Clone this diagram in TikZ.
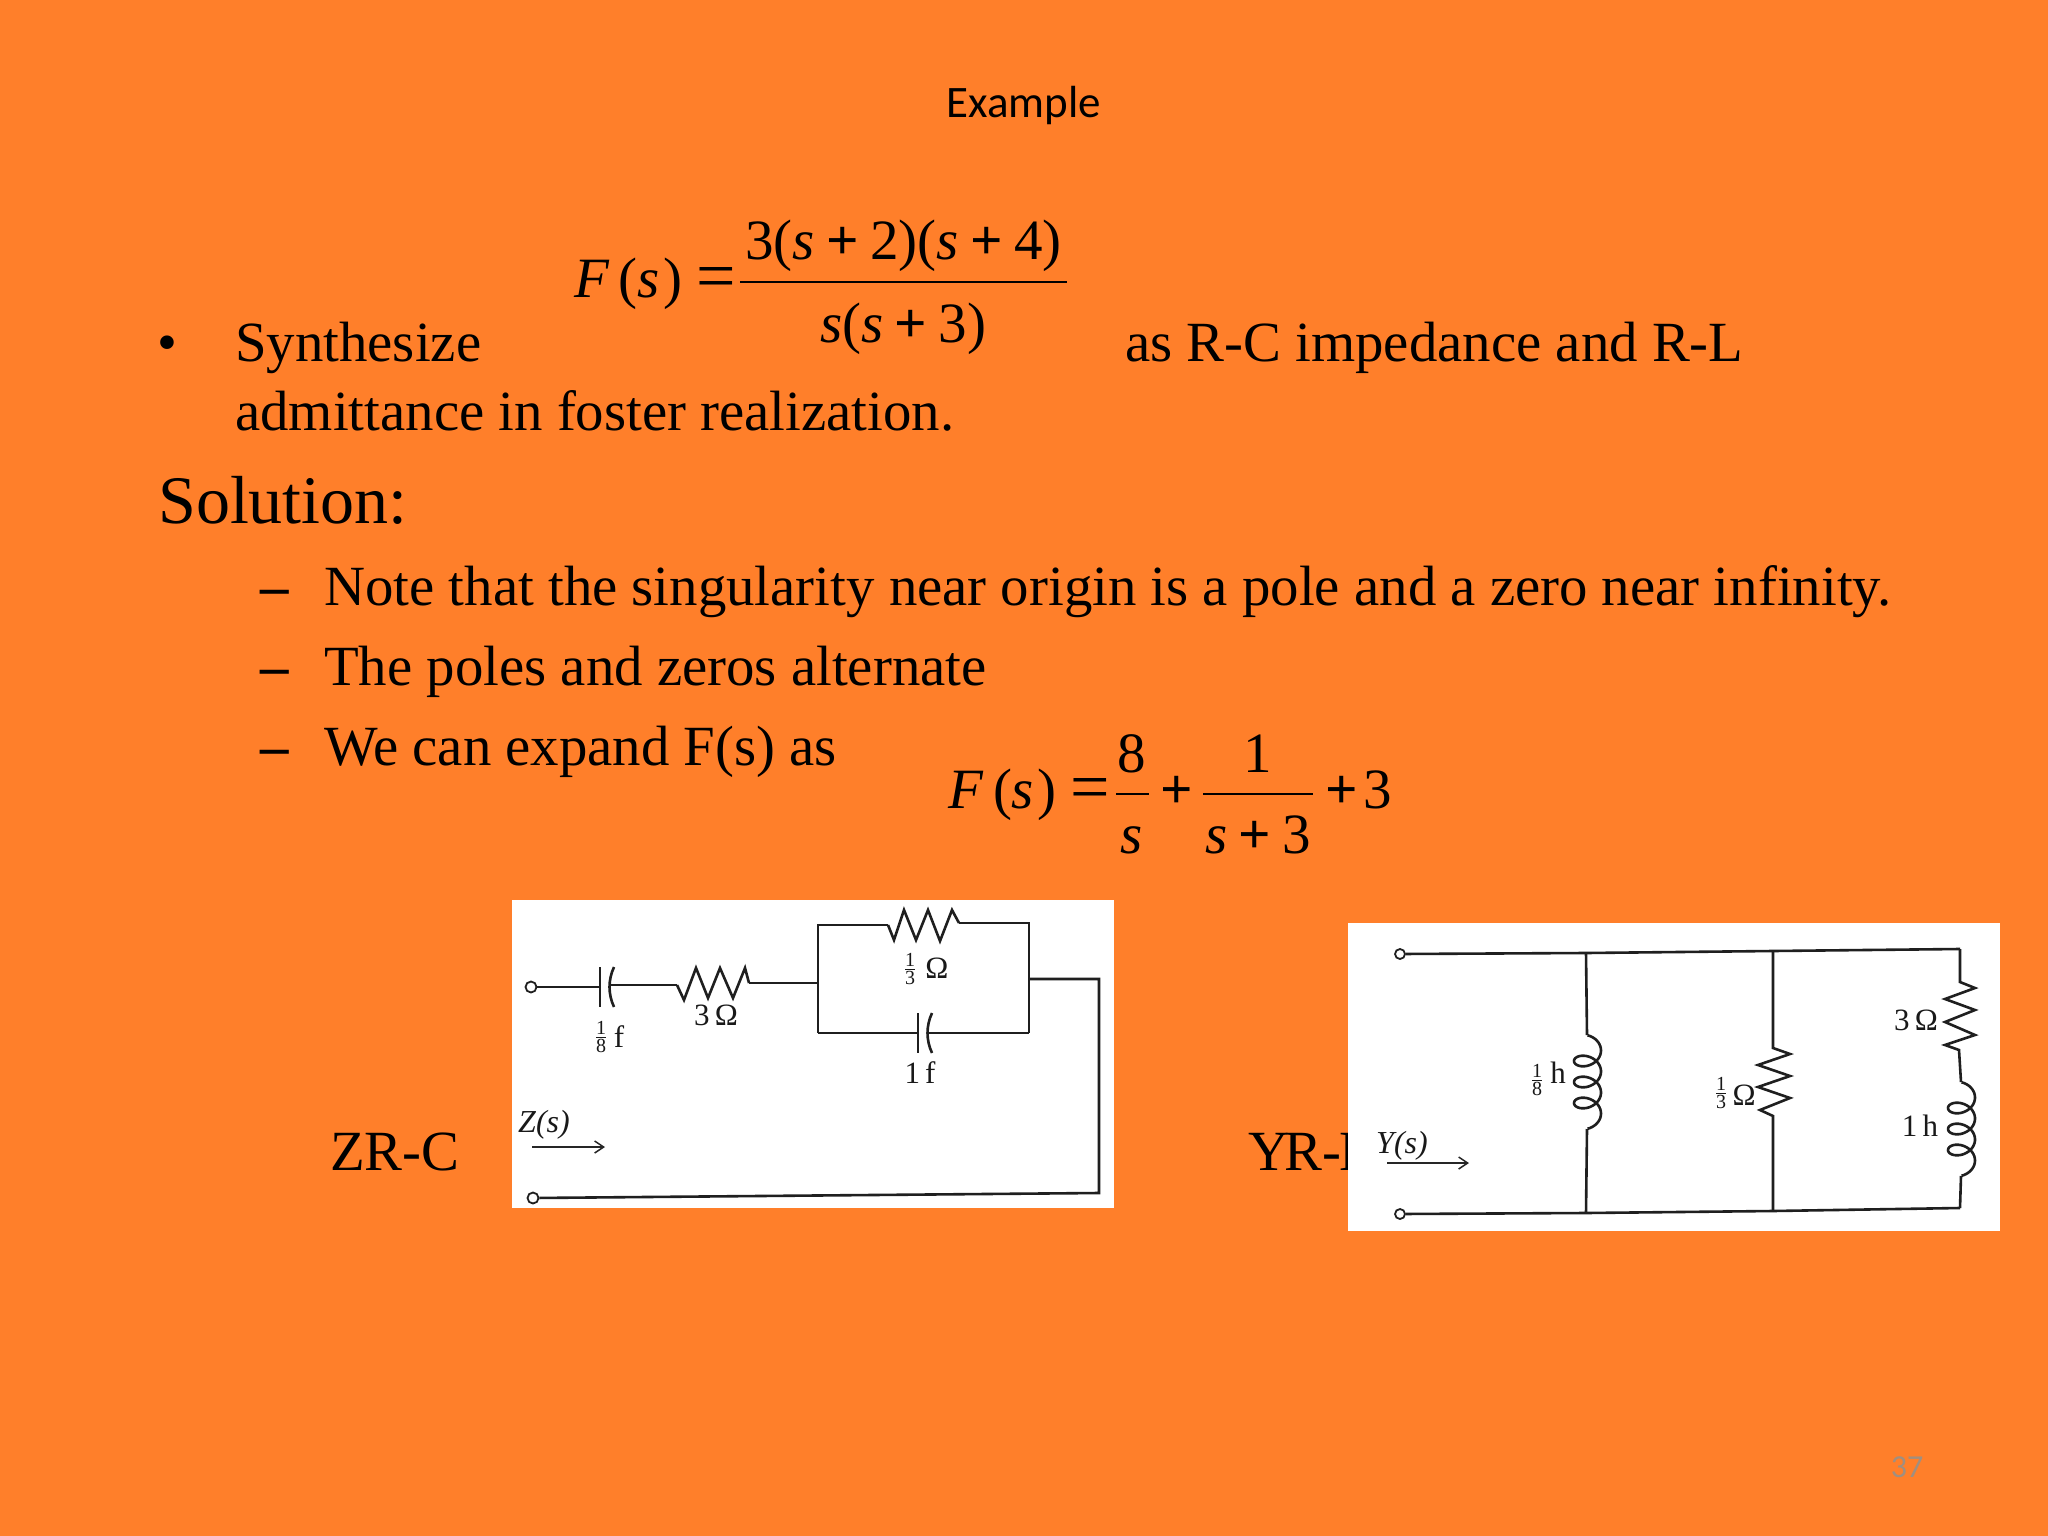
\documentclass[tikz,border=0pt]{standalone}
\usepackage{fontspec}
\setmainfont{Liberation Serif}
\newfontfamily\calibri{Carlito}
\usepackage{xcolor}
\usetikzlibrary{arrows.meta,positioning}
\definecolor{slideorange}{HTML}{FF7F2A}
\definecolor{pagegray}{HTML}{A08F80}
\newcommand{\fsize}[1]{\fontsize{#1}{#1}\selectfont}
\tikzset{%
	body/.style     = {anchor=base west, inner sep=0, font=\fsize{56.8}},
	head/.style     = {anchor=base west, inner sep=0, font=\fsize{68}},
	eqn/.style      = {anchor=base west, inner sep=0, font=\fsize{57}},
	eqnc/.style     = {anchor=base, inner sep=0, font=\fsize{57}},
	wire/.style     = {line width=2.6pt, black!88},
	rule/.style     = {line width=2.2pt, black},
	terminal/.style = {draw=black!88, line width=1.8pt, circle, fill=white, inner sep=0, minimum size=11pt},
	lab/.style      = {inner sep=0, font=\fsize{31}, black!90},
	frc/.style      = {inner sep=0, font=\fsize{20}, black!90},
	arrow/.style    = {line width=1.5pt, black!85, -{Straight Barb[length=9pt,width=12pt]}},
	coil/.pic       = {\draw[wire] plot[domain=-90:1170,samples=140,smooth] ({1.5+13.5*cos(\x)},{21*(\x-540)/360+10*sin(\x)});},
	capa/.pic       = {\draw[wire] (0,-20) -- (0,20);
		\draw[wire] (14,-20) .. controls (8,-7) and (8,7) .. (14,20);},
}
\newcommand{\ita}[1]{\textit{#1}}
\newcommand{\pl}{\hspace{0.2em}\textbf{+}\hspace{0.2em}}
\newcommand{\eqs}{{\fsize{70}\raisebox{-2pt}{=}}}
\newcommand{\stk}[2]{$\mbox{#1}\above1.4pt\mbox{#2}$}
\begin{document}
\begin{tikzpicture}[x=1pt,y=-1pt]
	\fill[slideorange] (0,0) rectangle (2048,1536);
	\useasboundingbox (0,0) rectangle (2048,1536);
	% slide text
	\node[inner sep=0, font=\calibri\fsize{45}] (title) at (1024,106) {Example};
	\node[body] (bul) at (157,361) {•};
	\node[body] (syn) at (235,361) {Synthesize};
	\node[body] (as) at (1125,361) {as R-C impedance and R-L};
	\node[body] (adm) at (235,430) {admittance in foster realization.};
	\node[head] (sol) at (158,523) {Solution:};
	\node[body] (d1) at (260,605) {\textbf{–}};
	\node[body] (d2) at (260,685) {\textbf{–}};
	\node[body] (d3) at (260,765) {\textbf{–}};
	\node[body] (note) at (324,605) {Note that the singularity near origin is a pole and a zero near infinity.};
	\node[body] (alt) at (324,685) {The poles and zeros alternate};
	\node[body] (exp) at (324,765) {We can expand F(s) as};
	% first equation
	\node[eqn] (fa) at (574,297) {\ita{F}\,(\ita{s}\hspace{0.05em}) \eqs};
	\node[eqn] (na) at (745,259) {3(\ita{s}\pl 2)(\ita{s}\pl 4)};
	\node[eqn] (da) at (820,342) {\ita{s}(\ita{s}\pl 3)};
	\coordinate (ral) at (740,282);
	\coordinate (rar) at (1067,282);
	\draw[rule] (ral) -- (rar);
	% second equation
	\node[eqn] (fb) at (948,808) {\ita{F}\,(\ita{s}\hspace{0.05em}) \eqs};
	\node[eqnc] (nb) at (1132,772) {8};
	\node[eqnc] (db) at (1132,853) {\ita{s}};
	\coordinate (rbl) at (1116,794);
	\coordinate (rbr) at (1149,794);
	\draw[rule] (rbl) -- (rbr);
	\node[eqnc] (pb) at (1177,808) {\textbf{+}};
	\node[eqnc] (nc) at (1258,772) {1};
	\node[eqnc] (dc) at (1258,853) {\ita{s}\pl 3};
	\coordinate (rcl) at (1203,794);
	\coordinate (rcr) at (1313,794);
	\draw[rule] (rcl) -- (rcr);
	\node[eqn] (pc) at (1325,808) {\textbf{+}\hspace{0.1em}3};
	\node[body] (zrc) at (330,1170) {ZR-C};
	\node[body] (yrl) at (1248,1170) {Y\kern-5pt R-\kern-2pt L};
	\node[inner sep=0, font=\calibri\fsize{32}, text=pagegray] (num) at (1907,1467) {37};
	% R-C circuit
	\fill[white] (512,900) rectangle (1114,1208);
	\node[terminal] (za) at (531,987) {};
	\node[terminal] (zb) at (533,1198) {};
	\coordinate (c1) at (600,987);
	\coordinate (c2) at (610,985);
	\coordinate (r1a) at (677,985);
	\coordinate (r1b) at (749,983);
	\coordinate (pl) at (818,983);
	\coordinate (ptl) at (818,925);
	\coordinate (pbl) at (818,1033);
	\coordinate (r2a) at (888,925);
	\coordinate (r2b) at (959,923);
	\coordinate (ptr) at (1029,925);
	\coordinate (pbr) at (1029,1033);
	\coordinate (pr) at (1029,979);
	\coordinate (c3) at (918,1033);
	\coordinate (c4) at (928,1033);
	\coordinate (zc) at (1099,979);
	\coordinate (zd) at (1099,1193);
	\pic at (c1) {capa};
	\pic at (c3) {capa};
	\draw[wire] (za) -- (c1);
	\draw[wire] (c2) -- (r1a);
	\draw[wire] (r1a) -- (684,1000) -- (696,968) -- (708,998) -- (720,968) -- (733,998) -- (745,968) -- (r1b);
	\draw[wire] (r1b) -- (pl);
	\draw[wire] (pbl) -- (ptl) -- (r2a);
	\draw[wire] (r2a) -- (894,940) -- (904,910) -- (916,940) -- (928,910) -- (940,941) -- (952,910) -- (r2b);
	\draw[wire] (r2b) -- (1029,923) -- (pbr);
	\draw[wire] (pbl) -- (c3);
	\draw[wire] (c4) -- (pbr);
	\draw[wire] (pr) -- (zc) -- (zd) -- (zb);
	\node[frc] (l1) at (601,1037) {\stk{1}{8}};
	\node[lab] (l2) at (619,1037) {f};
	\node[lab] (l3) at (716,1015) {3\,Ω};
	\node[frc] (l4) at (910,969) {\stk{1}{3}};
	\node[lab] (l5) at (937,968) {Ω};
	\node[lab] (l6) at (920,1073) {1\,f};
	\node[lab, font=\fsize{32}\itshape] (zs) at (544,1125) {Z(s)};
	\coordinate (zaa) at (532,1147);
	\coordinate (zab) at (605,1147);
	\draw[arrow] (zaa) -- (zab);
	% R-L circuit
	\fill[white] (1348,923) rectangle (2000,1231);
	\node[terminal, minimum size=10pt] (ya) at (1400,954) {};
	\node[terminal, minimum size=10pt] (yb) at (1400,1214) {};
	\coordinate (t1) at (1586,953);
	\coordinate (t2) at (1773,951);
	\coordinate (t3) at (1960,949);
	\coordinate (b1) at (1586,1213);
	\coordinate (b2) at (1773,1211);
	\coordinate (b3) at (1960,1208);
	\draw[wire] (ya) -- (t1) -- (t2) -- (t3);
	\draw[wire] (yb) -- (b1) -- (b2) -- (b3);
	% branches
	\pic at (1586,1082) {coil};
	\pic at (1960,1129) {coil};
	\draw[wire] (t1) -- (1587,1035);
	\draw[wire] (1587,1129) -- (b1);
	\draw[wire] (t2) -- (1773,1048) -- (1790,1054) -- (1758,1065) -- (1790,1076) -- (1758,1087) -- (1790,1098) -- (1760,1110) -- (1773,1116) -- (b2);
	\draw[wire] (t3) -- (1960,982) -- (1975,988) -- (1945,999) -- (1975,1010) -- (1945,1022) -- (1975,1035) -- (1945,1045) -- (1959,1050) -- (1961,1082);
	\draw[wire] (1961,1176) -- (b3);
	\node[frc] (m1) at (1537,1080) {\stk{1}{8}};
	\node[lab] (m2) at (1558,1073) {h};
	\node[frc] (m3) at (1721,1093) {\stk{1}{3}};
	\node[lab] (m4) at (1744,1095) {Ω};
	\node[lab] (m5) at (1916,1020) {3\,Ω};
	\node[lab] (m6) at (1920,1126) {1\,h};
	\node[lab, font=\fsize{32}\itshape] (ys) at (1402,1146) {Y(s)};
	\coordinate (yaa) at (1387,1163);
	\coordinate (yab) at (1469,1163);
	\draw[arrow] (yaa) -- (yab);
\end{tikzpicture}
\end{document}
